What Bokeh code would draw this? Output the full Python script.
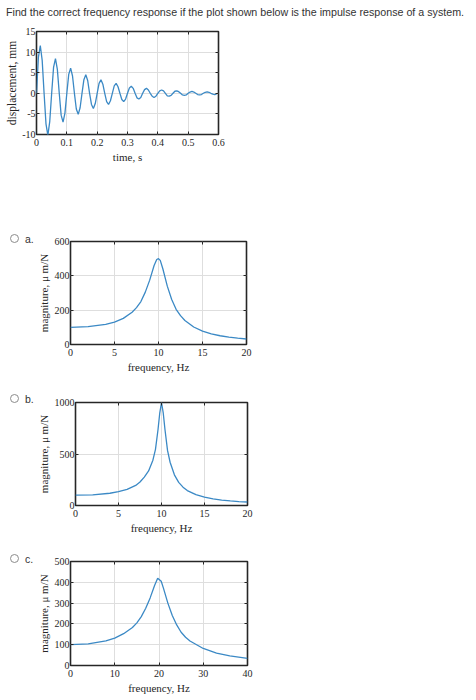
from bokeh.plotting import figure
from bokeh.models import Range1d, FixedTicker, LinearAxis, Div, CustomJSTickFormatter
from bokeh.layouts import column, row
from bokeh.embed import file_html
from bokeh.resources import INLINE

# ---------------- data ----------------
question = "Find the correct frequency response if the plot shown below is the impulse response of a system."

# impulse response: time (s) and displacement (mm)
time_s = [0.0, 0.00625, 0.0125, 0.01875, 0.025, 0.03125, 0.0375, 0.04375,
          0.05, 0.05625, 0.0625, 0.06875, 0.075, 0.08125, 0.0875, 0.09375,
          0.1, 0.10625, 0.1125, 0.11875, 0.125, 0.13125, 0.1375, 0.14375,
          0.15, 0.15625, 0.1625, 0.16875, 0.175, 0.18125, 0.1875, 0.19375,
          0.2, 0.20625, 0.2125, 0.21875, 0.225, 0.23125, 0.2375, 0.24375,
          0.25, 0.25625, 0.2625, 0.26875, 0.275, 0.28125, 0.2875, 0.29375,
          0.3, 0.30625, 0.3125, 0.31875, 0.325, 0.33125, 0.3375, 0.34375,
          0.35, 0.35625, 0.3625, 0.36875, 0.375, 0.38125, 0.3875, 0.39375,
          0.4, 0.40625, 0.4125, 0.41875, 0.425, 0.43125, 0.4375, 0.44375,
          0.45, 0.45625, 0.4625, 0.46875, 0.475, 0.48125, 0.4875, 0.49375,
          0.5, 0.50625, 0.5125, 0.51875, 0.525, 0.53125, 0.5375, 0.54375,
          0.55, 0.55625, 0.5625, 0.56875, 0.575, 0.58125, 0.5875, 0.59375]
displacement_mm = [0.0, 8.7, 11.6, 8.0, 0.0, -7.4, -10.2, -6.8,
                   0.0, 6.3, 8.4, 5.8, 0.0, -5.3, -7.0, -4.8,
                   0.0, 4.6, 6.1, 4.2, 0.0, -3.8, -5.1, -3.5,
                   0.0, 3.3, 4.5, 3.1, 0.0, -2.7, -3.7, -2.5,
                   0.0, 2.4, 3.3, 2.2, 0.0, -2.0, -2.7, -1.8,
                   0.0, 1.8, 2.4, 1.6, 0.0, -1.5, -2.0, -1.4,
                   0.0, 1.3, 1.7, 1.2, 0.0, -1.1, -1.4, -1.0,
                   0.0, 0.9, 1.2, 0.8, 0.0, -0.7, -1.0, -0.7,
                   0.0, 0.6, 0.8, 0.6, 0.0, -0.6, -0.7, -0.5,
                   0.0, 0.5, 0.6, 0.4, 0.0, -0.4, -0.5, -0.4,
                   0.0, 0.3, 0.45, 0.3, 0.0, -0.3, -0.4, -0.3,
                   0.0, 0.25, 0.35, 0.25, 0.0, -0.2, -0.3, -0.2]

# option a: frequency (Hz) and magnitude (micro m/N)
freq_a = [0, 2, 4, 5, 6, 7, 7.5, 8, 8.5, 9, 9.5, 9.8, 10, 10.2, 10.5, 11,
          11.5, 12, 12.5, 13, 14, 15, 16, 17, 18, 19, 20]
mag_a = [100, 104, 117, 130, 152, 188, 215, 250, 305, 375, 460, 495, 500, 490,
         440, 340, 262, 205, 168, 140, 102, 78, 62, 51, 43, 37, 32]

# option b
freq_b = [0, 2, 4, 5, 6, 7, 7.5, 8, 8.5, 9, 9.3, 9.6, 9.8, 10, 10.2, 10.4,
          10.7, 11, 11.5, 12, 12.5, 13, 14, 15, 16, 17, 18, 19, 20]
mag_b = [100, 104, 119, 134, 156, 195, 228, 275, 335, 440, 545, 740, 900, 1000,
         900, 740, 535, 420, 298, 225, 178, 145, 106, 82, 65, 53, 44, 38, 34]

# option c
freq_c = [0, 4, 8, 10, 12, 14, 15, 16, 17, 18, 19, 19.7, 20.5, 21, 22, 23, 24,
          25, 26, 27, 30, 33, 36, 40]
mag_c = [100, 104, 118, 132, 153, 183, 205, 235, 275, 325, 385, 420, 405, 372,
         300, 240, 195, 160, 136, 118, 82, 60, 46, 34]

# tick values / labels
time_ticks = [0, 0.1, 0.2, 0.3, 0.4, 0.5, 0.6]
time_tick_labels = ["0", "0.1", "0.2", "0.3", "0.4", "0.5", "0.6"]
disp_ticks = [-10, -5, 0, 5, 10, 15]
disp_tick_labels = ["-10", "-5", "0", "5", "10", "15"]
freq20_ticks = [0, 5, 10, 15, 20]
freq40_ticks = [0, 10, 20, 30, 40]
mag_a_ticks = [0, 200, 400, 600]
mag_b_ticks = [0, 500, 1000]
mag_c_ticks = [0, 100, 200, 300, 400, 500]

option_letters = ["a.", "b.", "c."]

# ---------------- style ----------------
LINE = "#3b89c5"
DARK = "#262626"
GRID = "#dedede"
SERIF = "Liberation Serif"


def make_fig(width, height, xr, yr, xticks, yticks, xlabel, ylabel,
             mb, label_standoff, xlabels=None, ylabels=None):
    p = figure(width=width, height=height,
               x_range=Range1d(*xr), y_range=Range1d(*yr),
               output_backend="svg", toolbar_location=None,
               min_border_left=mb[0], min_border_right=mb[1],
               min_border_top=mb[2], min_border_bottom=mb[3],
               background_fill_color="white", border_fill_color="white")
    p.outline_line_color = DARK
    p.outline_line_width = 1.6
    p.xgrid.ticker = FixedTicker(ticks=xticks)
    p.ygrid.ticker = FixedTicker(ticks=yticks)
    p.grid.grid_line_color = GRID
    p.grid.grid_line_width = 1

    for ax, ticks, lab, labels in ((p.xaxis[0], xticks, xlabel, xlabels),
                                   (p.yaxis[0], yticks, ylabel, ylabels)):
        ax.ticker = FixedTicker(ticks=ticks)
        if labels:
            ax.major_label_overrides = {t: s for t, s in zip(ticks, labels)}
        ax.axis_label = lab
        ax.axis_label_text_font = SERIF
        ax.axis_label_text_font_style = "normal"
        ax.axis_label_text_color = DARK
        ax.major_label_text_font = SERIF
        ax.major_label_text_font_size = "10px"
        ax.major_label_text_color = DARK
        ax.axis_line_color = None
        ax.major_tick_in = 3
        ax.major_tick_out = 0
        ax.major_tick_line_color = DARK
        ax.minor_tick_line_color = None
    p.xaxis.axis_label_text_font_size = "11px"
    p.yaxis.axis_label_text_font_size = "11px"
    p.xaxis.major_label_standoff = 4
    p.xaxis.axis_label_standoff = 2
    p.yaxis.major_label_standoff = 1
    p.yaxis.axis_label_standoff = label_standoff

    for loc, ticks in (("above", xticks), ("right", yticks)):
        ax = LinearAxis(ticker=FixedTicker(ticks=ticks),
                        formatter=CustomJSTickFormatter(code="return '';"))
        ax.major_label_standoff = 0
        ax.axis_line_color = None
        ax.major_tick_in = 3
        ax.major_tick_out = 0
        ax.major_tick_line_color = DARK
        ax.minor_tick_line_color = None
        p.add_layout(ax, loc)
    return p


def radio_div(letter, height, top):
    html = (
        '<div style="position:relative;width:34px;height:%dpx;">'
        '<span style="position:absolute;left:10px;top:%dpx;width:9px;height:9px;'
        'border:1px solid #8c8c8c;border-radius:50%%;background:#fff;"></span>'
        '<span style="position:absolute;left:25px;top:%dpx;font-family:\'Liberation Sans\';'
        'font-size:10.5px;color:#333;line-height:12px;">%s</span></div>'
    ) % (height, top, top - 1, letter)
    return Div(text=html, width=34, height=height, margin=0)


q_div = Div(
    text=('<div style="position:relative;top:4px;left:6px;font-family:\'Liberation Sans\';'
          'font-size:10.7px;color:#333;white-space:nowrap;line-height:12px;">%s</div>' % question),
    width=470, height=24, margin=0)

p_top = make_fig(470, 202, (0, 0.6), (-10, 15), time_ticks, disp_ticks,
                 "time, s", "displacement, mm", (36, 252, 7, 92), 1,
                 time_tick_labels, disp_tick_labels)
p_top.yaxis.axis_label_text_font_size = "11.5px"
p_top.line(time_s, displacement_mm, line_color=LINE, line_width=1.3)

p_a = make_fig(436, 160, (0, 20), (0, 600), freq20_ticks, mag_a_ticks,
               "frequency, Hz", "magniture, \u03bc m/N", (32, 224, 15, 42), 2)
p_a.line(freq_a, mag_a, line_color=LINE, line_width=1.3)

p_b = make_fig(436, 160, (0, 20), (0, 1000), freq20_ticks, mag_b_ticks,
               "frequency, Hz", "magniture, \u03bc m/N", (39, 223, 16, 41), 2)
p_b.line(freq_b, mag_b, line_color=LINE, line_width=1.3)

p_c = make_fig(436, 152, (0, 40), (0, 500), freq40_ticks, mag_c_ticks,
               "frequency, Hz", "magniture, \u03bc m/N", (32, 223, 15, 33), 2)
p_c.line(freq_c, mag_c, line_color=LINE, line_width=1.3)

layout = column(
    q_div,
    p_top,
    row(radio_div(option_letters[0], 160, 8), p_a),
    row(radio_div(option_letters[1], 160, 8), p_b),
    row(radio_div(option_letters[2], 152, 8), p_c),
)

open("out.html", "w").write(file_html(layout, INLINE))
